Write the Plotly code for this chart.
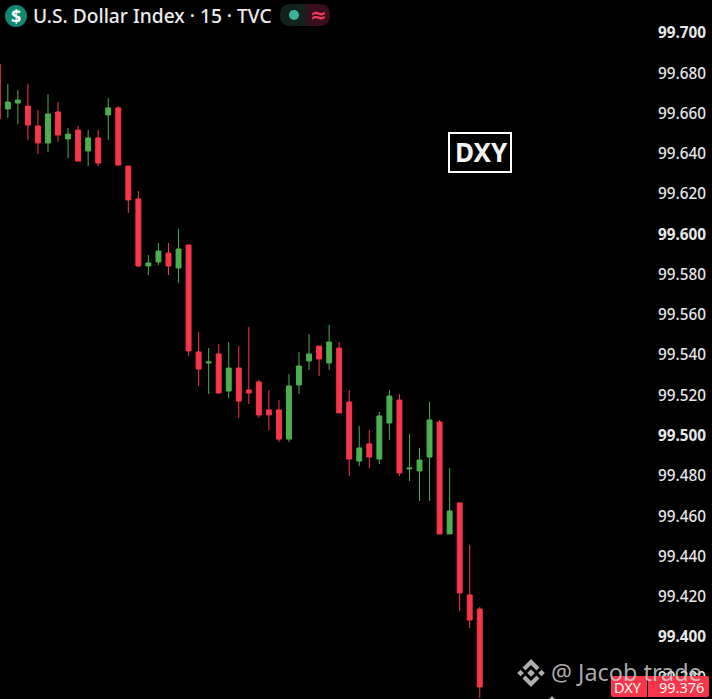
import plotly.graph_objects as go

W, H = 712, 699
BG = "#000000"
RED = "#F8364B"
GREEN = "#4CAF50"
TEXT = "#E8E8E8"

title_text = "U.S. Dollar Index · 15 · TVC"
tag_text = "DXY"
last_price_text = "99.376"
watermark_text = "@ Jacob trade"

candle_index = list(range(49))
opens = [99.6846, 99.6623, 99.6652, 99.6637, 99.6538, 99.6454, 99.6608, 99.6474, 99.6518, 99.6414,
         99.6479, 99.6593, 99.6628, 99.6339, 99.6176, 99.5843, 99.5863, 99.5907, 99.5833, 99.5947,
         99.5416, 99.5361, 99.5406, 99.5222, 99.5336, 99.5227, 99.5267, 99.5128, 99.5128, 99.4983,
         99.5252, 99.5371, 99.5445, 99.5361, 99.5435, 99.5167, 99.4874, 99.4959, 99.4884, 99.5063,
         99.5177, 99.4835, 99.4825, 99.4894, 99.5068, 99.4512, 99.4666, 99.4209, 99.4139]
highs = [99.6846, 99.6747, 99.6717, 99.6747, 99.6618, 99.6697, 99.6657, 99.6528, 99.6538, 99.6518,
         99.6518, 99.6677, 99.6637, 99.6339, 99.6215, 99.5897, 99.5957, 99.5957, 99.6027, 99.5947,
         99.5515, 99.5435, 99.5455, 99.5465, 99.5445, 99.5540, 99.5277, 99.5227, 99.5177, 99.5306,
         99.5416, 99.5505, 99.5445, 99.5550, 99.5465, 99.5227, 99.5048, 99.5028, 99.5118, 99.5227,
         99.5207, 99.5008, 99.4939, 99.5167, 99.5078, 99.4839, 99.4666, 99.4457, 99.4149]
lows = [99.6573, 99.6578, 99.6548, 99.6469, 99.6399, 99.6409, 99.6459, 99.6379, 99.6364, 99.6339,
        99.6339, 99.6469, 99.6344, 99.6106, 99.5838, 99.5798, 99.5848, 99.5798, 99.5758, 99.5396,
        99.5247, 99.5207, 99.5212, 99.5187, 99.5088, 99.5157, 99.5088, 99.5028, 99.4969, 99.4969,
        99.5207, 99.5326, 99.5296, 99.5326, 99.5113, 99.4800, 99.4849, 99.4839, 99.4859, 99.4979,
        99.4800, 99.4775, 99.4676, 99.4676, 99.4512, 99.4512, 99.4129, 99.4045, 99.3697]
closes = [99.6573, 99.6657, 99.6667, 99.6543, 99.6454, 99.6598, 99.6493, 99.6498, 99.6364, 99.6479,
          99.6354, 99.6628, 99.6344, 99.6171, 99.5843, 99.5858, 99.5917, 99.5843, 99.5927, 99.5421,
          99.5331, 99.5366, 99.5212, 99.5336, 99.5172, 99.5212, 99.5103, 99.5103, 99.4983, 99.5247,
          99.5346, 99.5406, 99.5381, 99.5465, 99.5113, 99.4884, 99.4939, 99.4894, 99.5098, 99.5197,
          99.4815, 99.4839, 99.4879, 99.5078, 99.4512, 99.4626, 99.4219, 99.4084, 99.3752]

tick_values = [99.70, 99.68, 99.66, 99.64, 99.62, 99.60, 99.58, 99.56, 99.54,
               99.52, 99.50, 99.48, 99.46, 99.44, 99.42, 99.40, 99.38]
tick_labels = ["<b>99.700</b>", "99.680", "99.660", "99.640", "99.620", "<b>99.600</b>", "99.580", "99.560", "99.540",
               "99.520", "<b>99.500</b>", "99.480", "99.460", "99.440", "99.420", "<b>99.400</b>", "99.380"]

FONT = "Noto Sans"


def px(x):
    return x / W


def py(y):
    return 1 - y / H


def poly(points, fill):
    path = "M " + " L ".join(f"{px(a):.5f},{py(b):.5f}" for a, b in points) + " Z"
    return dict(type="path", xref="paper", yref="paper", path=path, fillcolor=fill, line_width=0, layer="above")


def rrect(x0, y0, x1, y1, r, fill, left=True, right=True):
    rl = r if left else 0
    rr = r if right else 0
    p = (f"M {px(x0 + rl):.5f},{py(y0):.5f} L {px(x1 - rr):.5f},{py(y0):.5f} "
         f"Q {px(x1):.5f},{py(y0):.5f} {px(x1):.5f},{py(y0 + rr):.5f} "
         f"L {px(x1):.5f},{py(y1 - rr):.5f} Q {px(x1):.5f},{py(y1):.5f} {px(x1 - rr):.5f},{py(y1):.5f} "
         f"L {px(x0 + rl):.5f},{py(y1):.5f} Q {px(x0):.5f},{py(y1):.5f} {px(x0):.5f},{py(y1 - rl):.5f} "
         f"L {px(x0):.5f},{py(y0 + rl):.5f} Q {px(x0):.5f},{py(y0):.5f} {px(x0 + rl):.5f},{py(y0):.5f} Z")
    return dict(type="path", xref="paper", yref="paper", path=p, fillcolor=fill, line_width=0, layer="above")


def circle(cx, cy, r, fill):
    return dict(type="circle", xref="paper", yref="paper", x0=px(cx - r), x1=px(cx + r),
                y0=py(cy + r), y1=py(cy - r), fillcolor=fill, line_width=0, layer="above")


def label(x, y, text, size, color=TEXT, anchor="left", family=FONT, weight=None):
    font = dict(family=family, size=size, color=color)
    if weight:
        font["weight"] = weight
    return dict(x=px(x), y=py(y), xref="paper", yref="paper", text=text, showarrow=False,
                xanchor=anchor, yanchor="middle", align=anchor, borderpad=0, font=font)


def diamond(cx, cy, r, fill):
    return poly([(cx, cy - r), (cx + r, cy), (cx, cy + r), (cx - r, cy)], fill)


WM = "rgba(205,205,205,0.85)"
LCX, LCY = 531, 673
shapes = [
    circle(16, 16, 11, "#0F8A70"),
    rrect(280, 4, 306, 26, 11, "#14221F", right=False),
    rrect(306, 4, 330, 26, 11, "#3A0F1C", left=False),
    circle(294, 15, 5, "#3BB39C"),
    dict(type="rect", xref="paper", yref="paper", x0=px(449), x1=px(511), y0=py(172), y1=py(133),
         line=dict(color="#FFFFFF", width=2), fillcolor=BG, layer="above"),
    rrect(611, 676, 647, 697, 2, RED, right=False),
    rrect(648, 676, 709, 697, 2, RED, left=False),
    poly([(LCX, LCY - 14), (LCX + 8.5, LCY - 5.5), (LCX + 5.5, LCY - 2.5), (LCX, LCY - 8),
          (LCX - 5.5, LCY - 2.5), (LCX - 8.5, LCY - 5.5)], WM),
    poly([(LCX, LCY + 14), (LCX + 8.5, LCY + 5.5), (LCX + 5.5, LCY + 2.5), (LCX, LCY + 8),
          (LCX - 5.5, LCY + 2.5), (LCX - 8.5, LCY + 5.5)], WM),
    diamond(LCX - 10.5, LCY, 3.3, WM),
    diamond(LCX + 10.5, LCY, 3.3, WM),
    diamond(LCX, LCY, 3.8, WM),
    poly([(552, 696), (555, 699), (549, 699)], WM),
]

annotations = [
    label(16, 16, "<b>$</b>", 18, "#FFFFFF", "center"),
    label(31.5, 16, title_text, 19.2, "#EDEDED", weight=500),
    label(318, 15, "<b>≈</b>", 20, "#F23B5E", "center", "DejaVu Sans"),
    label(481, 152, f"<b>{tag_text}</b>", 26, "#F4F4F4", "center"),
    label(628, 687, tag_text, 14.5, "#F5F5F5", "center"),
    label(681.5, 687, last_price_text, 14.5, "#F5F5F5", "center"),
    label(550, 672, watermark_text, 23.4, WM),
]

fig = go.Figure(go.Candlestick(
    x=candle_index, open=opens, high=highs, low=lows, close=closes,
    whiskerwidth=0,
    increasing=dict(line=dict(color=GREEN, width=1), fillcolor=GREEN),
    decreasing=dict(line=dict(color=RED, width=1), fillcolor=RED),
    showlegend=False,
))

fig.update_layout(
    width=W, height=H,
    margin=dict(l=0, r=0, t=0, b=0, pad=0),
    paper_bgcolor=BG, plot_bgcolor=BG,
    boxgap=0.3,
    showlegend=False,
    shapes=shapes,
    annotations=annotations,
    font=dict(family=FONT),
    xaxis=dict(range=[0.22, 71.13], visible=False, rangeslider=dict(visible=False), fixedrange=True),
    yaxis=dict(range=[99.3692, 99.7164], side="right", ticklabelposition="inside",
               tickmode="array", tickvals=tick_values, ticktext=tick_labels,
               tickfont=dict(family=FONT, size=15.3, color=TEXT, weight=500),
               showgrid=False, zeroline=False, showline=False, ticks="", fixedrange=True,
               ticklabelstandoff=3),
)

fig.write_html("out.html", config=dict(displayModeBar=False),
               post_script="document.body.style.margin='0';")
